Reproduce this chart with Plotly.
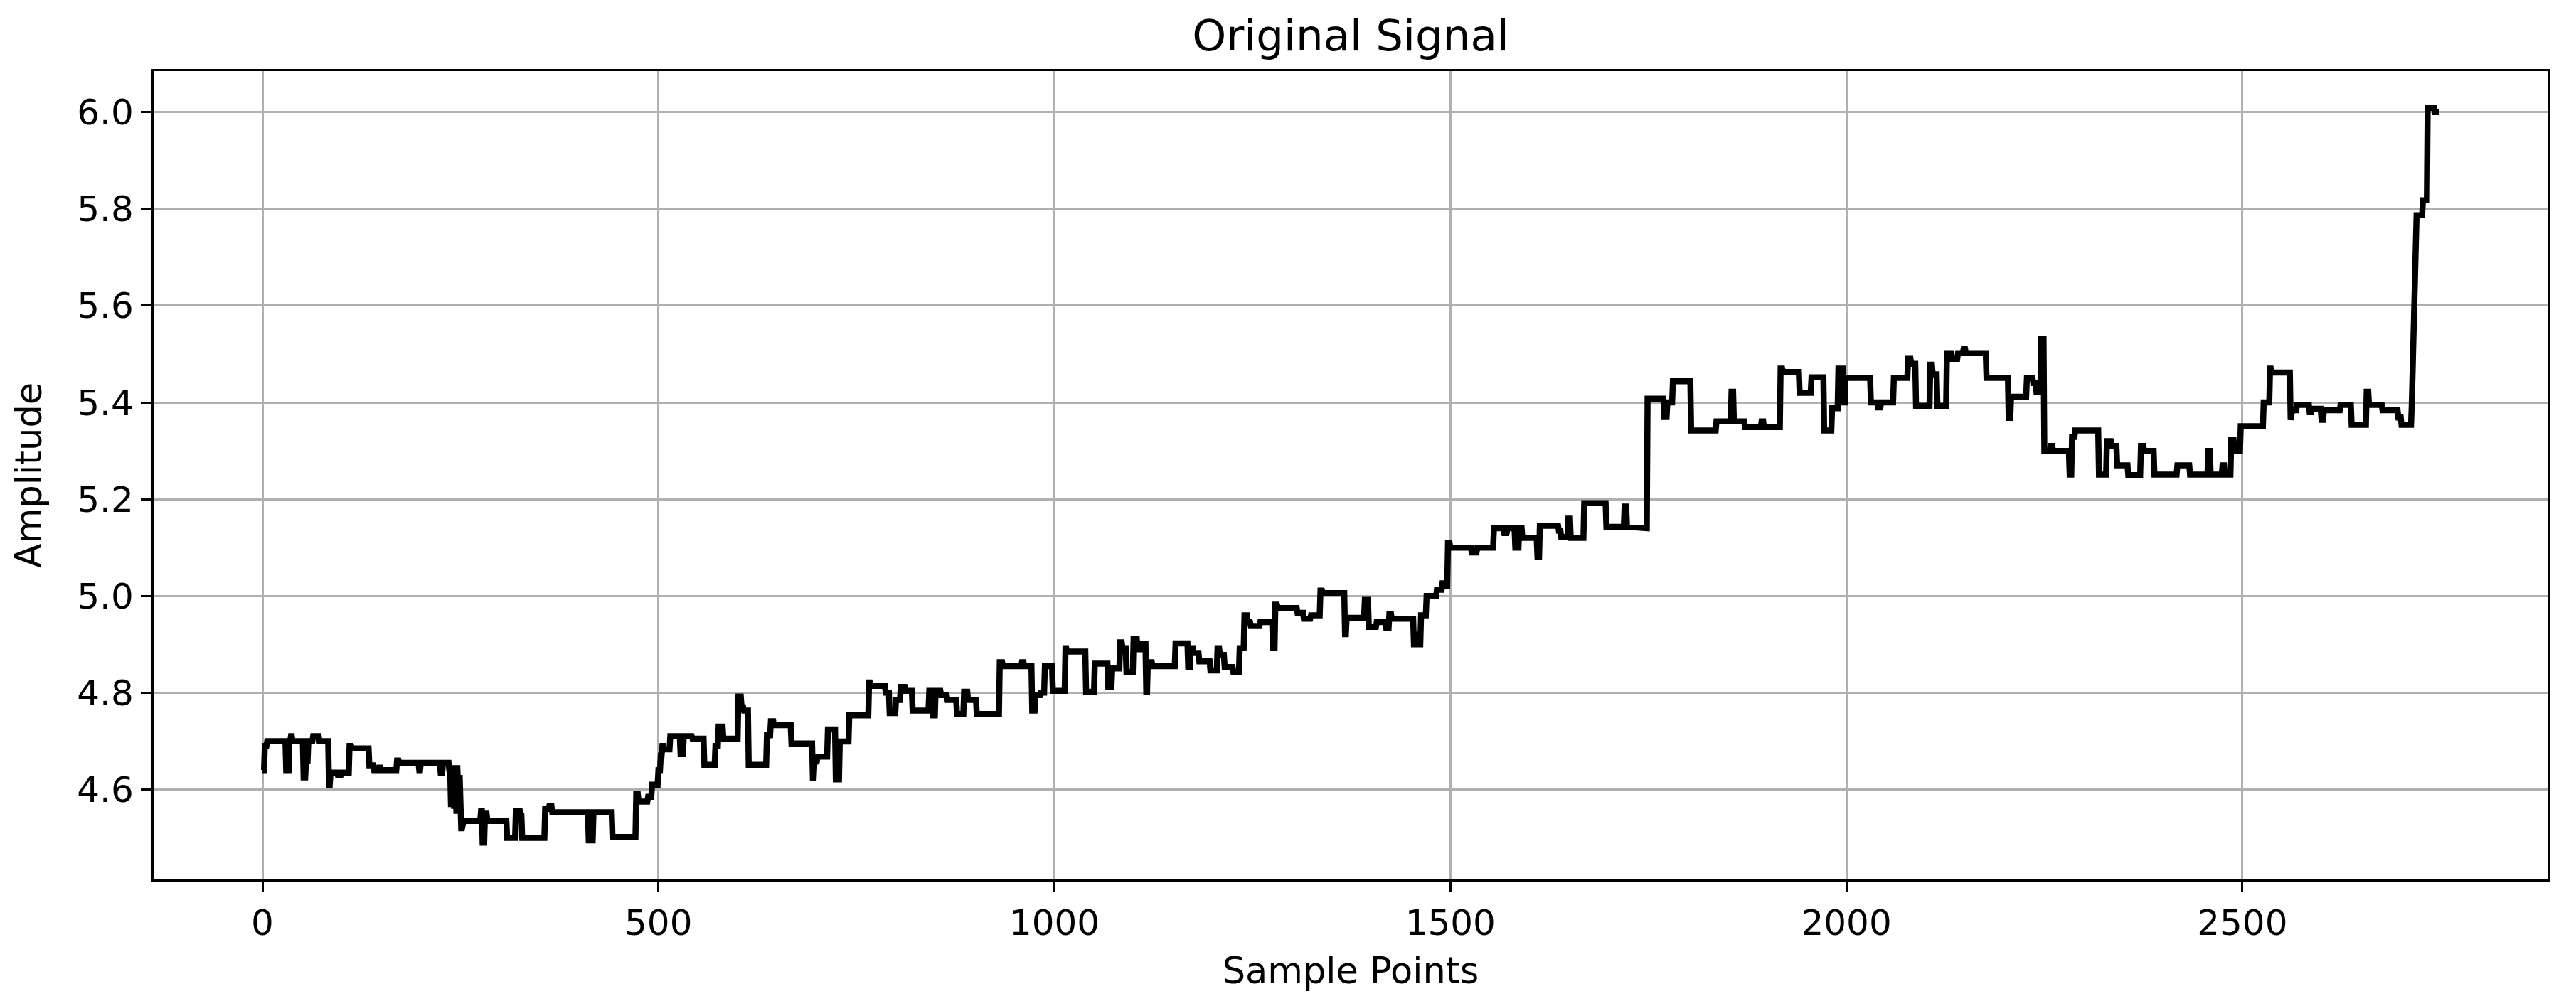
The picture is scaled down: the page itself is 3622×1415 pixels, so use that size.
import numpy as np
import plotly.graph_objects as go

# step signal: each level holds from its start index
# until the next start index
n_samples = 2749

seg_start = [
    0, 3, 6, 30, 34, 36, 38, 52, 55, 58,
    64, 72, 84, 86, 95, 100, 110, 113, 135, 141,
    147, 150, 170, 173, 198, 200, 225, 228, 236, 238,
    240, 241, 243, 244, 246, 247, 249, 250, 253, 276,
    278, 281, 284, 309, 320, 326, 328, 357, 362, 366,
    412, 418, 442, 472, 475, 487, 492, 500, 503, 505,
    507, 515, 528, 532, 543, 558, 572, 576, 582, 601,
    605, 608, 614, 637, 642, 646, 668, 695, 697, 701,
    714, 724, 729, 741, 766, 768, 787, 792, 800, 806,
    812, 821, 842, 847, 850, 857, 865, 877, 886, 891,
    902, 931, 935, 959, 962, 972, 976, 983, 988, 998,
    1014, 1016, 1040, 1051, 1068, 1073, 1083, 1086, 1091, 1100,
    1105, 1111, 1116, 1118, 1124, 1153, 1169, 1172, 1176, 1183,
    1197, 1206, 1209, 1215, 1226, 1234, 1240, 1244, 1248, 1260,
    1276, 1279, 1282, 1307, 1315, 1324, 1336, 1339, 1367, 1369,
    1392, 1397, 1407, 1419, 1423, 1426, 1454, 1456, 1460, 1463,
    1470, 1483, 1490, 1495, 1497, 1500, 1527, 1534, 1555, 1568,
    1572, 1582, 1587, 1591, 1610, 1613, 1637, 1640, 1649, 1652,
    1669, 1697, 1720, 1723, 1726, 1749, 1770, 1774, 1781, 1804,
    1836, 1855, 1858, 1872, 1893, 1896, 1917, 1920, 1941, 1956,
    1972, 1982, 1990, 1993, 1995, 1997, 1999, 2031, 2040, 2044,
    2060, 2078, 2082, 2088, 2106, 2109, 2115, 2127, 2133, 2141,
    2148, 2151, 2177, 2205, 2208, 2228, 2236, 2240, 2246, 2250,
    2258, 2261, 2282, 2285, 2289, 2319, 2329, 2335, 2342, 2356,
    2372, 2376, 2389, 2418, 2434, 2457, 2460, 2475, 2478, 2486,
    2490, 2498, 2527, 2535, 2537, 2561, 2562, 2569, 2585, 2588,
    2600, 2603, 2624, 2638, 2657, 2660, 2677, 2697, 2701, 2714,
    2715, 2716, 2717, 2718, 2719, 2728, 2734, 2743,
]

seg_level = [
    4.64, 4.69, 4.70, 4.64, 4.70, 4.71, 4.70, 4.625, 4.66, 4.70,
    4.71, 4.70, 4.61, 4.635, 4.63, 4.635, 4.69, 4.685, 4.65, 4.64,
    4.645, 4.64, 4.66, 4.655, 4.64, 4.655, 4.635, 4.655, 4.64, 4.57,
    4.65, 4.56, 4.64, 4.55, 4.65, 4.56, 4.63, 4.52, 4.535, 4.555,
    4.49, 4.55, 4.535, 4.50, 4.555, 4.545, 4.50, 4.56, 4.565, 4.553,
    4.495, 4.553, 4.502, 4.59, 4.575, 4.585, 4.61, 4.64, 4.67, 4.69,
    4.683, 4.71, 4.673, 4.71, 4.705, 4.651, 4.69, 4.73, 4.705, 4.792,
    4.77, 4.763, 4.651, 4.712, 4.741, 4.733, 4.695, 4.624, 4.658, 4.668,
    4.724, 4.621, 4.699, 4.753, 4.821, 4.814, 4.80, 4.758, 4.785, 4.812,
    4.804, 4.763, 4.804, 4.753, 4.804, 4.795, 4.785, 4.756, 4.802, 4.785,
    4.756, 4.863, 4.855, 4.863, 4.855, 4.763, 4.795, 4.80, 4.855, 4.804,
    4.892, 4.885, 4.802, 4.86, 4.812, 4.85, 4.904, 4.892, 4.843, 4.912,
    4.89, 4.90, 4.802, 4.863, 4.855, 4.902, 4.853, 4.892, 4.882, 4.865,
    4.846, 4.892, 4.878, 4.853, 4.843, 4.892, 4.96, 4.946, 4.938, 4.946,
    4.892, 4.982, 4.975, 4.965, 4.953, 4.96, 5.011, 5.006, 4.921, 4.955,
    4.992, 4.936, 4.946, 4.934, 4.963, 4.953, 4.90, 4.92, 4.90, 4.96,
    5.0, 5.013, 5.026, 5.02, 5.109, 5.10, 5.09, 5.10, 5.14, 5.13,
    5.14, 5.10, 5.14, 5.12, 5.08, 5.145, 5.135, 5.122, 5.16, 5.12,
    5.192, 5.143, 5.185, 5.143, 5.14, 5.408, 5.37, 5.40, 5.444, 5.342,
    5.361, 5.422, 5.361, 5.349, 5.361, 5.349, 5.47, 5.463, 5.42, 5.452,
    5.342, 5.388, 5.47, 5.40, 5.47, 5.40, 5.451, 5.40, 5.39, 5.40,
    5.451, 5.49, 5.48, 5.393, 5.478, 5.458, 5.393, 5.502, 5.49, 5.502,
    5.51, 5.502, 5.451, 5.368, 5.412, 5.451, 5.44, 5.422, 5.532, 5.30,
    5.31, 5.30, 5.251, 5.329, 5.342, 5.251, 5.32, 5.31, 5.27, 5.25,
    5.31, 5.30, 5.251, 5.27, 5.251, 5.30, 5.251, 5.27, 5.251, 5.322,
    5.30, 5.351, 5.40, 5.47, 5.462, 5.364, 5.384, 5.395, 5.38, 5.387,
    5.364, 5.384, 5.395, 5.354, 5.422, 5.395, 5.384, 5.369, 5.354, 5.40,
    5.48, 5.56, 5.62, 5.70, 5.787, 5.818, 6.009, 6.0,
]

x_ticks = [0, 500, 1000, 1500, 2000, 2500]
y_ticks = [4.6, 4.8, 5.0, 5.2, 5.4, 5.6, 5.8, 6.0]

assert len(seg_start) == len(seg_level)

lengths = np.diff(seg_start + [n_samples])
signal = np.repeat(seg_level, lengths)
samples = np.arange(n_samples)

# matplotlib style 5% margins
lo, hi = signal.min(), signal.max()
pad = 0.05 * (hi - lo)
x_pad = 0.05 * (n_samples - 1)

FONT = "DejaVu Sans"
GRID = "#b0b0b0"

fig = go.Figure()
fig.add_trace(go.Scatter(
    x=samples, y=signal, mode="lines",
    line=dict(color="black", width=8.5),
    showlegend=False,
))

axis_common = dict(
    showline=True, linecolor="black", linewidth=3.3, mirror=True,
    showgrid=True, gridcolor=GRID, gridwidth=3.3,
    ticks="outside", ticklen=15, tickwidth=3.3, tickcolor="black",
    tickfont=dict(family=FONT, size=50, color="black"),
    zeroline=False,
)

fig.update_xaxes(
    range=[-x_pad, (n_samples - 1) + x_pad],
    tickvals=x_ticks,
    title=dict(text="Sample Points", font=dict(family=FONT, size=51, color="black"), standoff=22),
    **axis_common,
)
fig.update_yaxes(
    range=[lo - pad, hi + pad],
    tickvals=y_ticks, tickformat=".1f",
    title=dict(text="Amplitude", font=dict(family=FONT, size=51, color="black"), standoff=34),
    **axis_common,
)

fig.update_layout(
    width=3622, height=1415,
    margin=dict(l=208, r=48, t=92, b=186, autoexpand=False),
    paper_bgcolor="white", plot_bgcolor="white",
    title=dict(text="Original Signal", x=0.5, xref="paper", xanchor="center",
               y=1 - 42 / 1415, yref="container", yanchor="middle",
               font=dict(family=FONT, size=61, color="black")),
)

fig.write_html("out.html")
